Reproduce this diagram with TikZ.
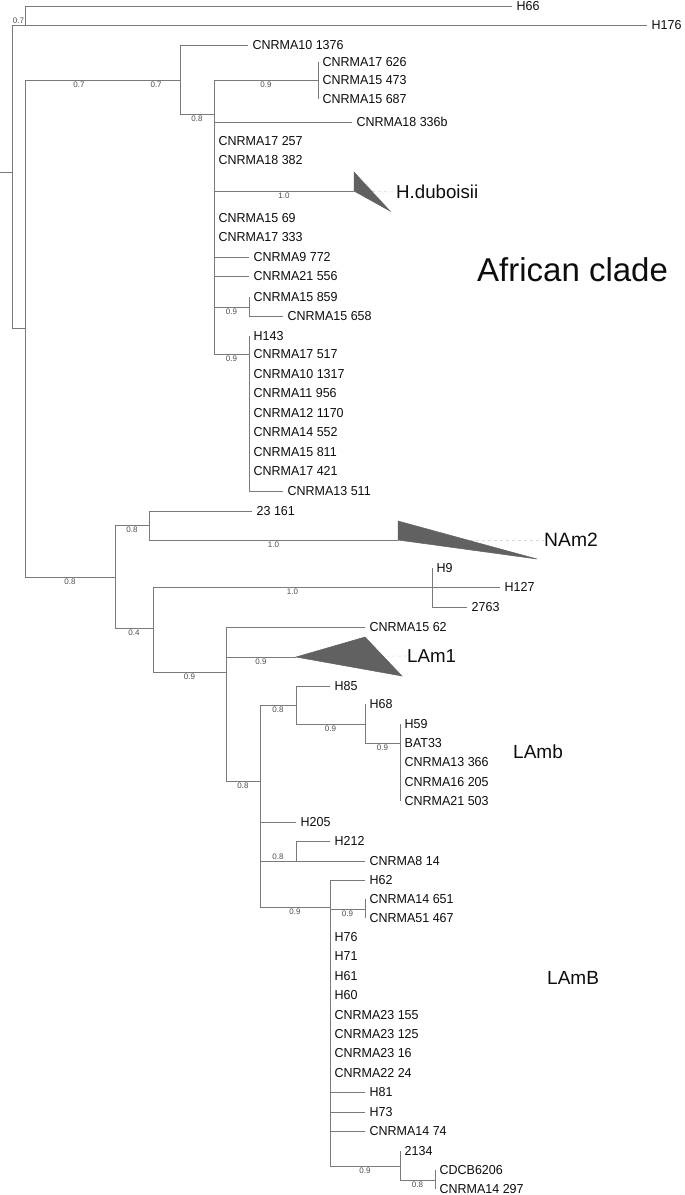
\documentclass[tikz,border=0pt]{standalone}
\usepackage{fontspec}
\setmainfont{Liberation Sans}
\newfontfamily\leaffont[FakeStretch=0.96]{Liberation Sans}
\begin{document}
\begin{tikzpicture}[x=1pt,y=-1pt,
  br/.style={draw=black!52, line width=0.95pt},
  leaf/.style={anchor=west, inner xsep=4.5pt, inner ysep=0pt, text height=9.3pt, text depth=0pt, font=\leaffont\fontsize{13}{14}\selectfont, text=black!95},
  sup/.style={font=\fontsize{8}{9}\selectfont, text=black!70, inner sep=1pt},
  big/.style={anchor=west, inner sep=0pt, text depth=0pt, text=black!95},
  tri/.style={fill=black!62, draw=black!62, line width=0.5pt},
  faint/.style={draw=black!15, dashed, line width=0.6pt}]
\path[use as bounding box] (0,0) rectangle (685,1195);

% internal nodes
\coordinate (stub) at (0,172);
\coordinate (root) at (12,172);
\coordinate (nH) at (25,25);
\coordinate (nLow) at (25,328);
\coordinate (nAfr) at (180,80);
\coordinate (nA2) at (214,114);
\coordinate (nA3) at (318,80);
\coordinate (nA4) at (249,307);
\coordinate (nA5) at (249,354);
\coordinate (dubtip) at (354,191);
\coordinate (dubA) at (354,172);
\coordinate (dubB) at (390,211);
\coordinate (nAm) at (115,577);
\coordinate (nB1) at (149,525);
\coordinate (nam2tip) at (398,540);
\coordinate (nam2A) at (398,521);
\coordinate (nam2B) at (537,559);
\coordinate (nB2) at (153,628);
\coordinate (nB3) at (432,587);
\coordinate (nB4) at (226,672);
\coordinate (lam1tip) at (296,657);
\coordinate (lam1A) at (365,637);
\coordinate (lam1B) at (402,676);
\coordinate (nC1) at (260,781);
\coordinate (nC2) at (296,705);
\coordinate (nC3) at (365,724);
\coordinate (nC4) at (400,743);
\coordinate (nC5) at (296,861);
\coordinate (nC6) at (330,907);
\coordinate (nC7) at (365,909);
\coordinate (nC8) at (400,1166);
\coordinate (nC9) at (435,1180);

% leaves
\node[leaf] (H66) at (512,6) {H66};
\node[leaf] (H176) at (647,25) {H176};
\node[leaf] (c101376) at (248,45) {CNRMA10 1376};
\node[leaf] (c17626) at (318,62) {CNRMA17 626};
\node[leaf] (c15473) at (318,80) {CNRMA15 473};
\node[leaf] (c15687) at (318,99) {CNRMA15 687};
\node[leaf] (c18336b) at (352,122) {CNRMA18 336b};
\node[leaf] (c17257) at (214,141) {CNRMA17 257};
\node[leaf] (c18382) at (214,160) {CNRMA18 382};
\node[leaf] (c1569) at (214,218) {CNRMA15 69};
\node[leaf] (c17333) at (214,237) {CNRMA17 333};
\node[leaf] (c9772) at (249,257) {CNRMA9 772};
\node[leaf] (c21556) at (249,276) {CNRMA21 556};
\node[leaf] (c15859) at (249,297) {CNRMA15 859};
\node[leaf] (c15658) at (283,316) {CNRMA15 658};
\node[leaf] (H143) at (249,336) {H143};
\node[leaf] (c17517) at (249,354) {CNRMA17 517};
\node[leaf] (c101317) at (249,374) {CNRMA10 1317};
\node[leaf] (c11956) at (249,393) {CNRMA11 956};
\node[leaf] (c121170) at (249,413) {CNRMA12 1170};
\node[leaf] (c14552) at (249,432) {CNRMA14 552};
\node[leaf] (c15811) at (249,452) {CNRMA15 811};
\node[leaf] (c17421) at (249,471) {CNRMA17 421};
\node[leaf] (c13511) at (283,491) {CNRMA13 511};
\node[leaf] (s23161) at (252,511) {23 161};
\node[leaf] (H9) at (432,568) {H9};
\node[leaf] (H127) at (500,587) {H127};
\node[leaf] (s2763) at (467,607) {2763};
\node[leaf] (c1562) at (365,627) {CNRMA15 62};
\node[leaf] (H85) at (330,686) {H85};
\node[leaf] (H68) at (365,704) {H68};
\node[leaf] (H59) at (400,724) {H59};
\node[leaf] (BAT33) at (400,743) {BAT33};
\node[leaf] (c13366) at (400,762) {CNRMA13 366};
\node[leaf] (c16205) at (400,782) {CNRMA16 205};
\node[leaf] (c21503) at (400,801) {CNRMA21 503};
\node[leaf] (H205) at (296,822) {H205};
\node[leaf] (H212) at (330,841) {H212};
\node[leaf] (c814) at (365,861) {CNRMA8 14};
\node[leaf] (H62) at (365,880) {H62};
\node[leaf] (c14651) at (365,899) {CNRMA14 651};
\node[leaf] (c51467) at (365,918) {CNRMA51 467};
\node[leaf] (H76) at (330,937) {H76};
\node[leaf] (H71) at (330,956) {H71};
\node[leaf] (H61) at (330,976) {H61};
\node[leaf] (H60) at (330,995) {H60};
\node[leaf] (c23155) at (330,1015) {CNRMA23 155};
\node[leaf] (c23125) at (330,1034) {CNRMA23 125};
\node[leaf] (c2316) at (330,1053) {CNRMA23 16};
\node[leaf] (c2224) at (330,1073) {CNRMA22 24};
\node[leaf] (H81) at (365,1092) {H81};
\node[leaf] (H73) at (365,1112) {H73};
\node[leaf] (c1474) at (365,1131) {CNRMA14 74};
\node[leaf] (s2134) at (400,1151) {2134};
\node[leaf] (CDCB) at (435,1170) {CDCB6206};
\node[leaf] (c14297) at (435,1189) {CNRMA14 297};

% clade labels
\node[big, font=\fontsize{18.7}{20}\selectfont, text height=13.4pt] (dublbl) at (396,192) {H.duboisii};
\node[big, font=\fontsize{33}{36}\selectfont, text height=23.6pt] (afrlbl) at (477,270) {African clade};
\node[big, font=\fontsize{19.3}{21}\selectfont, text height=13.8pt] (nam2lbl) at (544,540) {NAm2};
\node[big, font=\fontsize{18.7}{20}\selectfont, text height=13.4pt] (lam1lbl) at (407,656) {LAm1};
\node[big, font=\fontsize{19}{21}\selectfont, text height=13.6pt] (lamblbl) at (513,752) {LAmb};
\node[big, font=\fontsize{19}{21}\selectfont, text height=13.6pt] (lamBlbl) at (547,978) {LAmB};

% faint guides
\draw[faint] (dubtip) -- (dublbl.west);
\draw[faint] (nam2tip) -- (nam2lbl.west);
\draw[faint] (lam1tip) -- (lam1lbl.west);

% branches
\draw[br] (stub) -- (root);
\draw[br] (root) |- (nH) node[sup,above,pos=0.75] {0.7};
\draw[br] (root) |- (nLow);
\draw[br] (nH) |- (H66.west);
\draw[br] (nH) |- (H176.west);
\draw[br] (nLow) |- (nAfr) node[sup,below,pos=0.674] {0.7} node[sup,below,pos=0.923] {0.7};
\draw[br] (nLow) |- (nAm) node[sup,below,pos=0.75] {0.8};
\draw[br] (nAfr) |- (c101376.west);
\draw[br] (nAfr) |- (nA2) node[sup,below,pos=0.75] {0.8};
\draw[br] (nA2) |- (nA3) node[sup,below,pos=0.75] {0.9};
\foreach \l in {c17626,c15473,c15687} \draw[br] (nA3) |- (\l.west);
\foreach \l in {c18336b,c17257,c18382,c1569,c17333,c9772,c21556} \draw[br] (nA2) |- (\l.west);
\draw[br] (nA2) |- (dubtip) node[sup,below,pos=0.75] {1.0};
\draw[br] (nA2) |- (nA4) node[sup,below,pos=0.75] {0.9};
\draw[br] (nA2) |- (nA5) node[sup,below,pos=0.75] {0.9};
\foreach \l in {c15859,c15658} \draw[br] (nA4) |- (\l.west);
\foreach \l in {H143,c17517,c101317,c11956,c121170,c14552,c15811,c17421,c13511} \draw[br] (nA5) |- (\l.west);

\draw[br] (nAm) |- (nB1) node[sup,below,pos=0.75] {0.8};
\draw[br] (nAm) |- (nB2) node[sup,below,pos=0.75] {0.4};
\draw[br] (nB1) |- (s23161.west);
\draw[br] (nB1) |- (nam2tip) node[sup,below,pos=0.75] {1.0};
\draw[br] (nB2) |- (nB3) node[sup,below,pos=0.75] {1.0};
\draw[br] (nB2) |- (nB4) node[sup,below,pos=0.75] {0.9};
\foreach \l in {H9,H127,s2763} \draw[br] (nB3) |- (\l.west);
\draw[br] (nB4) |- (c1562.west);
\draw[br] (nB4) |- (lam1tip) node[sup,below,pos=0.75] {0.9};
\draw[br] (nB4) |- (nC1) node[sup,below,pos=0.75] {0.8};
\draw[br] (nC1) |- (nC2) node[sup,below,pos=0.75] {0.8};
\draw[br] (nC1) |- (H205.west);
\draw[br] (nC1) |- (nC5) node[sup,above,pos=0.75] {0.8};
\draw[br] (nC1) |- (nC6) node[sup,below,pos=0.75] {0.9};
\draw[br] (nC2) |- (H85.west);
\draw[br] (nC2) |- (nC3) node[sup,below,pos=0.75] {0.9};
\draw[br] (nC3) |- (H68.west);
\draw[br] (nC3) |- (nC4) node[sup,below,pos=0.75] {0.9};
\foreach \l in {H59,BAT33,c13366,c16205,c21503} \draw[br] (nC4) |- (\l.west);
\draw[br] (nC5) |- (H212.west);
\draw[br] (nC5) |- (c814.west);
\draw[br] (nC6) |- (H62.west);
\draw[br] (nC6) |- (nC7) node[sup,below,pos=0.75] {0.9};
\foreach \l in {H76,H71,H61,H60,c23155,c23125,c2316,c2224,H81,H73,c1474} \draw[br] (nC6) |- (\l.west);
\draw[br] (nC6) |- (nC8) node[sup,below,pos=0.75] {0.9};
\draw[br] (nC7) |- (c14651.west);
\draw[br] (nC7) |- (c51467.west);
\draw[br] (nC8) |- (s2134.west);
\draw[br] (nC8) |- (nC9) node[sup,below,pos=0.75] {0.8};
\draw[br] (nC9) |- (CDCB.west);
\draw[br] (nC9) |- (c14297.west);

% collapsed clades
\filldraw[tri] (dubA) -- (dubB) -- (dubtip) -- cycle;
\filldraw[tri] (nam2A) -- (nam2B) -- (nam2tip) -- cycle;
\filldraw[tri] (lam1tip) -- (lam1A) -- (lam1B) -- cycle;
\end{tikzpicture}
\end{document}
